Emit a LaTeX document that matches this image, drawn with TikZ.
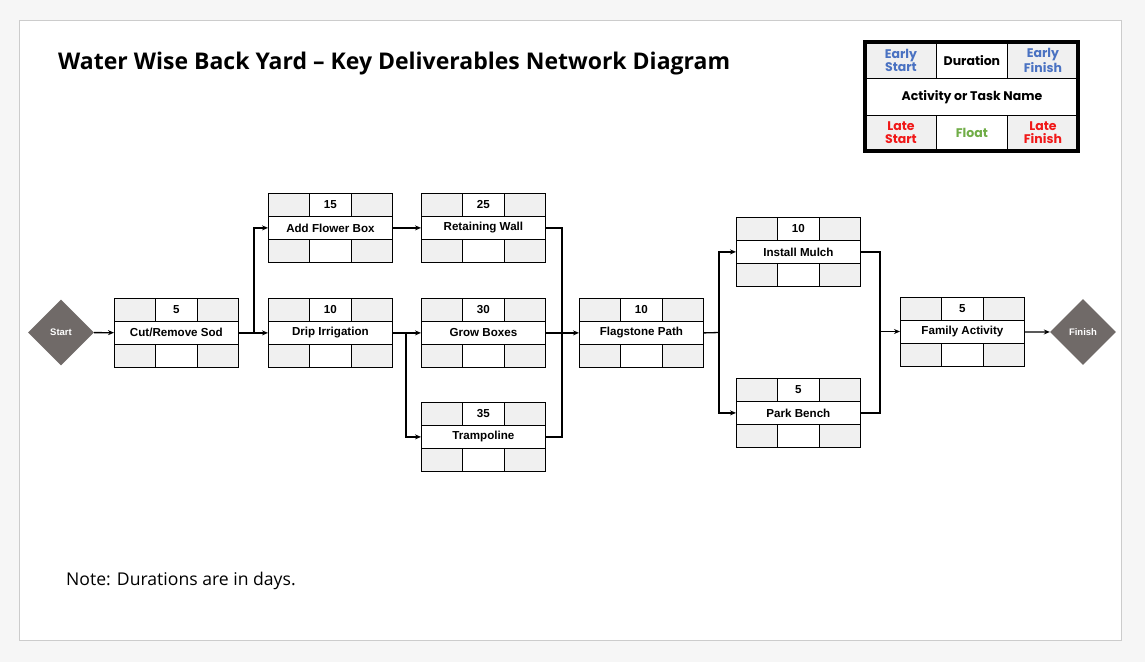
\documentclass[tikz,border=0pt]{standalone}
\usepackage{fontspec}
\setmainfont{Liberation Sans}
\newfontfamily\titlefont{Open Sans}
\newfontfamily\legfont{Poppins}
\usetikzlibrary{arrows.meta,shapes.geometric}
\definecolor{cellgray}{HTML}{F0F0F0}
\definecolor{diagray}{HTML}{706A68}
\definecolor{legblue}{HTML}{4A72C2}
\definecolor{legred}{HTML}{F01818}
\definecolor{leggreen}{HTML}{70AD47}
\tikzset{
  cell/.style={draw=black,line width=0.8pt,minimum width=41.33pt,minimum height=23pt,inner sep=0pt,anchor=north west},
  gcell/.style={cell,fill=cellgray},
  namecell/.style={draw=black,line width=0.8pt,fill=white,minimum width=124pt,minimum height=23pt,inner sep=0pt,anchor=north west,font=\bfseries\fontsize{11.6}{13}\selectfont},
  dia/.style={diamond,fill=diagray,minimum width=66pt,minimum height=66pt,inner sep=0pt,text=white,font=\bfseries\fontsize{9.5}{11}\selectfont},
  conn/.style={line width=1.3pt,-{Stealth[length=6pt,width=5pt]}},
  wire/.style={line width=1.3pt},
  leg/.style={draw=black,line width=0.8pt,minimum width=71pt,minimum height=36.3pt,inner sep=0pt,anchor=north west,align=center,font=\legfont\fontsize{12.5}{13}\selectfont\bfseries}
}
\newcommand{\task}[5]{%
  \node[gcell] (#1a) at (#2,#3) {};
  \node[cell,fill=white,font=\bfseries\fontsize{11.6}{13}\selectfont] (#1b) at (#2+41.33,#3) {#4};
  \node[gcell] (#1c) at (#2+82.67,#3) {};
  \node[namecell] (#1) at (#2,#3+23) {#5};
  \node[gcell] (#1d) at (#2,#3+46) {};
  \node[cell,fill=white] (#1e) at (#2+41.33,#3+46) {};
  \node[gcell] (#1f) at (#2+82.67,#3+46) {};
}
\begin{document}
\begin{tikzpicture}[x=1pt,y=-1pt]
\useasboundingbox (0,0) rectangle (1145,662);
\fill[cellgray!60] (0,0) rectangle (1145,662);
\draw[fill=white,draw=black!20] (19,20) rectangle (1121,640);
\node[anchor=west,inner sep=0pt,font=\titlefont\bfseries\fontsize{23}{26}\selectfont] (title) at (58,64) {Water Wise Back Yard – Key Deliverables Network Diagram};
\node[anchor=west,inner sep=0pt,font=\titlefont\fontsize{17.6}{20}\selectfont] (note) at (66,581) {Note: Durations are in days.};
% legend
\node[leg,fill=cellgray,text=legblue] (l1) at (865,42) {Early\\Start};
\node[leg,fill=white] (l2) at (936,42) {Duration};
\node[leg,fill=cellgray,text=legblue] (l3) at (1007,42) {Early\\Finish};
\node[leg,fill=white,minimum width=213pt] (l4) at (865,78.3) {Activity or Task Name};
\node[leg,fill=cellgray,text=legred] (l5) at (865,114.6) {Late\\Start};
\node[leg,fill=white,text=leggreen] (l6) at (936,114.6) {Float};
\node[leg,fill=cellgray,text=legred] (l7) at (1007,114.6) {Late\\Finish};
\draw[line width=3.5pt] (865,42) rectangle (1078,151);
% tasks
\task{cut}{114}{298}{5}{Cut/Remove Sod}
\task{flower}{268}{193}{15}{Add Flower Box}
\task{drip}{268}{298}{10}{Drip Irrigation}
\task{wall}{421}{193}{25}{Retaining Wall}
\task{grow}{421}{298}{30}{Grow Boxes}
\task{tramp}{421}{402}{35}{Trampoline}
\task{flag}{579}{298}{10}{Flagstone Path}
\task{mulch}{736}{217}{10}{Install Mulch}
\task{bench}{736}{378}{5}{Park Bench}
\task{family}{900}{297}{5}{Family Activity}
\node[dia] (start) at (61,332.5) {Start};
\node[dia] (finish) at (1083,332) {Finish};
% connectors
\coordinate (j1) at (254,332.5);
\coordinate (j2) at (406,332.5);
\coordinate (j3) at (562,332.5);
\coordinate (j4) at (719,332.5);
\coordinate (j5) at (880,331.5);
\draw[conn] (start) -- (cut);
\draw[conn] (cut) -- (drip);
\draw[conn] (j1) |- (flower);
\draw[conn] (flower) -- (wall);
\draw[conn] (drip) -- (grow);
\draw[conn] (j2) |- (tramp);
\draw[wire] (wall.east) -| (j3);
\draw[wire] (tramp.east) -| (j3);
\draw[conn] (grow) -- (flag);
\draw[conn] (j4) |- (mulch);
\draw[conn] (j4) |- (bench);
\draw[wire] (flag.east) -- (j4);
\draw[wire] (mulch.east) -| (j5);
\draw[wire] (bench.east) -| (j5);
\draw[conn] (j5) -- (family.west|-j5);
\draw[conn] (family) -- (finish);
\end{tikzpicture}
\end{document}
